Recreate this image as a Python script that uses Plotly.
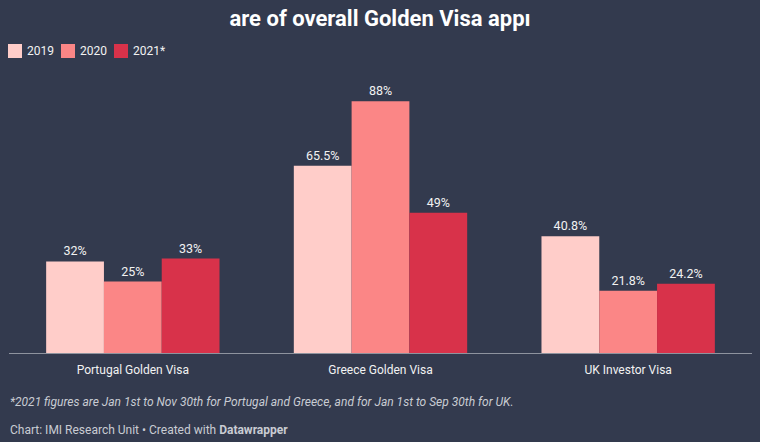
import plotly.graph_objects as go

categories = ["Portugal Golden Visa", "Greece Golden Visa", "UK Investor Visa"]
series_names = ["2019", "2020", "2021*"]
values_2019 = [32, 65.5, 40.8]
values_2020 = [25, 88, 21.8]
values_2021 = [33, 49, 24.2]
labels_2019 = ["32%", "65.5%", "40.8%"]
labels_2020 = ["25%", "88%", "21.8%"]
labels_2021 = ["33%", "49%", "24.2%"]
colors = ["#ffcdc9", "#fb8686", "#d8324a"]

title_text = "are of overall Golden Visa appı"
note_text = "*2021 figures are Jan 1st to Nov 30th for Portugal and Greece, and for Jan 1st to Sep 30th for UK."
source_text = "Chart: IMI Research Unit • Created with <b>Datawrapper</b>"

BG = "#333a4e"
FONT = "Roboto"

fig = go.Figure()
for name, vals, labs, col in zip(series_names,
                                 [values_2019, values_2020, values_2021],
                                 [labels_2019, labels_2020, labels_2021],
                                 colors):
    fig.add_trace(go.Bar(
        x=categories, y=vals, name=name, marker=dict(color=col, line=dict(width=0)),
        text=labs, textposition="outside", cliponaxis=False,
        textfont=dict(family=FONT, size=12.5, color="#f2f2f2"),
        showlegend=False,
    ))

# manual legend (Datawrapper style)
leg_x = [8, 61, 114]
for name, col, lx in zip(series_names, colors, leg_x):
    fig.add_shape(type="rect", xref="paper", yref="paper",
                  x0=(lx - 9) / 743, x1=(lx + 14 - 9) / 743,
                  y0=(353 - 58) / 286, y1=(353 - 44) / 286,
                  fillcolor=col, line=dict(width=0))
    fig.add_annotation(text=name, xref="paper", yref="paper",
                       x=(lx + 17 - 9) / 743, y=(353 - 51) / 286,
                       xanchor="left", yanchor="middle", showarrow=False,
                       font=dict(family=FONT, size=12, color="#f2f2f2"))

fig.add_annotation(text="<i>" + note_text + "</i>", xref="paper", yref="paper",
                   x=(8 - 9) / 743, y=-(402 - 353) / 286, xanchor="left", yanchor="middle",
                   showarrow=False, font=dict(family=FONT, size=12, color="#c9ccd3"))
fig.add_annotation(text=source_text, xref="paper", yref="paper",
                   x=(8 - 9) / 743, y=-(430 - 353) / 286, xanchor="left", yanchor="middle",
                   showarrow=False, font=dict(family=FONT, size=12, color="#c9ccd3"))

fig.update_layout(
    width=760, height=442,
    margin=dict(l=9, r=8, t=67, b=89),
    paper_bgcolor=BG, plot_bgcolor=BG,
    barmode="group", bargap=0.3, bargroupgap=0,
    title=dict(text="<b>" + title_text + "</b>", x=0.5, xanchor="center",
               y=1 - 18 / 442, yanchor="middle",
               font=dict(family=FONT, size=22, color="#ffffff")),
    xaxis=dict(showgrid=False, showline=True, linecolor="#8e939e", linewidth=1,
               ticks="", ticklabelstandoff=6,
               tickfont=dict(family=FONT, size=12, color="#f2f2f2"),
               fixedrange=True),
    yaxis=dict(range=[0, 100], visible=False, showgrid=False, zeroline=False),
)

fig.write_html("out.html")
